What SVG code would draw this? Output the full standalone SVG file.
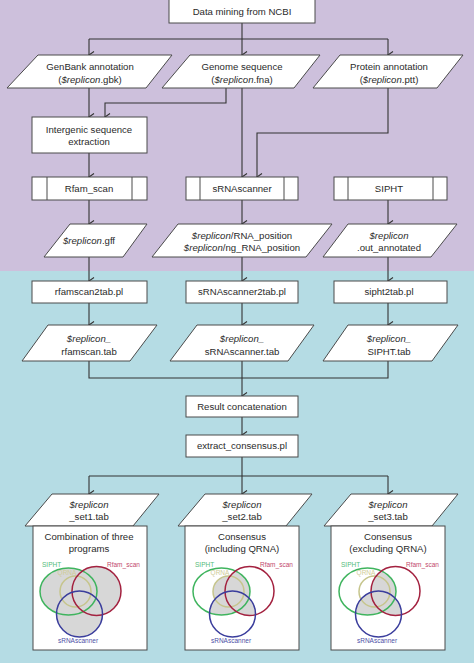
<svg xmlns="http://www.w3.org/2000/svg" width="474" height="663" viewBox="0 0 474 663">
<style>
.box{fill:#fff;stroke:#4a4a4a;stroke-width:1}
.t{font-family:"Liberation Sans",Arial,sans-serif;font-size:9.6px;fill:#2a2a2a;text-anchor:middle}
.i{font-style:italic}
.con{fill:none;stroke:#333;stroke-width:1.1}
.arr{fill:none;stroke:#333;stroke-width:1.1;marker-end:url(#ah)}
.lab{font-family:"Liberation Sans",Arial,sans-serif;font-size:6.5px}
.shade{fill:#d7d7d7;stroke:none}
</style>
<defs>
<marker id="ah" markerWidth="10" markerHeight="10" refX="5" refY="9" orient="auto" markerUnits="userSpaceOnUse" viewBox="0 0 10 10">
<path d="M1.5,4 L5,9 L8.5,4" fill="none" stroke="#333" stroke-width="1.1"/>
</marker>
<clipPath id="cG"><ellipse cx="-20.5" cy="591.5" rx="28.5" ry="23.5"/></clipPath>
<clipPath id="cR"><circle cx="7.5" cy="591" r="24.5"/></clipPath>
</defs>
<rect x="0" y="0" width="474" height="271" fill="#cdc0dc"/>
<rect x="0" y="271" width="474" height="392" fill="#b5dce4"/>

<g id="connectors">
<path class="con" d="M242,23 V39 M89,39 H388"/>
<path class="arr" d="M89,39 V55"/>
<path class="arr" d="M242,39 V55"/>
<path class="arr" d="M388,39 V55"/>
<path class="arr" d="M89,88 V117"/>
<path class="arr" d="M226,88 V103 H105 V117"/>
<path class="arr" d="M242,88 V177"/>
<path class="arr" d="M388,88 V133 H257 V177"/>
<path class="arr" d="M89,153 V177"/>
<path class="arr" d="M89,200 V224"/>
<path class="arr" d="M242,200 V224"/>
<path class="arr" d="M388,200 V224"/>
<path class="arr" d="M89,257 V281"/>
<path class="arr" d="M242,257 V281"/>
<path class="arr" d="M388,257 V281"/>
<path class="arr" d="M89,303 V325"/>
<path class="arr" d="M242,303 V325"/>
<path class="arr" d="M388,303 V325"/>
<path class="con" d="M89,361 V378 H388 V361"/>
<path class="arr" d="M242,361 V396"/>
<path class="arr" d="M242,417 V435"/>
<path class="con" d="M242,457 V476 M89,476 H388"/>
<path class="arr" d="M89,476 V494"/>
<path class="arr" d="M242,476 V494"/>
<path class="arr" d="M388,476 V494"/>
</g>

<g id="ncbi">
<rect class="box" x="169" y="-1" width="146" height="24"/>
<text class="t" x="242" y="15">Data mining  from NCBI</text>
</g>

<g id="genbank">
<polygon class="box" points="38,55 172,55 146,88 7,88"/>
<text class="t" x="90" y="70">GenBank annotation</text>
<text class="t" x="90" y="83">(<tspan class="i">$replicon</tspan>.gbk)</text>
</g>
<g id="genome">
<polygon class="box" points="190,55 320,55 294,88 162,88"/>
<text class="t" x="242" y="70">Genome sequence</text>
<text class="t" x="242" y="83">(<tspan class="i">$replicon</tspan>.fna)</text>
</g>
<g id="protein">
<polygon class="box" points="340,55 463,55 437,88 313,88"/>
<text class="t" x="389" y="70">Protein annotation</text>
<text class="t" x="389" y="83">(<tspan class="i">$replicon</tspan>.ptt)</text>
</g>

<g id="intergenic">
<rect class="box" x="32" y="117" width="115" height="36"/>
<text class="t" x="89" y="133">Intergenic sequence</text>
<text class="t" x="89" y="145">extraction</text>
</g>

<g id="rfam_scan">
<rect class="box" x="32" y="177" width="115" height="23"/>
<path class="box" d="M47,177 V200 M132,177 V200"/>
<text class="t" x="89" y="192">Rfam_scan</text>
</g>
<g id="srnascanner">
<rect class="box" x="186" y="177" width="112" height="23"/>
<path class="box" d="M200,177 V200 M284,177 V200"/>
<text class="t" x="242" y="192">sRNAscanner</text>
</g>
<g id="sipht">
<rect class="box" x="334" y="177" width="113" height="23"/>
<path class="box" d="M348,177 V200 M433,177 V200"/>
<text class="t" x="389" y="192">SIPHT</text>
</g>

<g id="gff">
<polygon class="box" points="70,224 147,224 123,257 44,257"/>
<text class="t" x="89" y="244"><tspan class="i">$replicon</tspan>.gff</text>
</g>
<g id="srna_pos">
<polygon class="box" points="178,224 332,224 306,257 152,257"/>
<text class="t" x="242" y="239"><tspan class="i">$replicon</tspan>/RNA_position</text>
<text class="t" x="242" y="251"><tspan class="i">$replicon</tspan>/ng_RNA_position</text>
</g>
<g id="out_annotated">
<polygon class="box" points="348,224 457,224 431,257 323,257"/>
<text class="t i" x="389" y="239">$replicon</text>
<text class="t" x="389" y="251">.out_annotated</text>
</g>

<g id="rfamscan2tab">
<rect class="box" x="32" y="281" width="115" height="22"/>
<text class="t" x="89" y="295">rfamscan2tab.pl</text>
</g>
<g id="srnascanner2tab">
<rect class="box" x="186" y="281" width="112" height="22"/>
<text class="t" x="242" y="295">sRNAscanner2tab.pl</text>
</g>
<g id="sipht2tab">
<rect class="box" x="334" y="281" width="113" height="22"/>
<text class="t" x="389" y="295">sipht2tab.pl</text>
</g>

<g id="rfamscan_tab">
<polygon class="box" points="48,325 157,325 130,361 22,361"/>
<text class="t i" x="89" y="342">$replicon_</text>
<text class="t" x="89" y="355">rfamscan.tab</text>
</g>
<g id="srnascanner_tab">
<polygon class="box" points="197,325 314,325 288,361 170,361"/>
<text class="t i" x="242" y="342">$replicon_</text>
<text class="t" x="242" y="355">sRNAscanner.tab</text>
</g>
<g id="sipht_tab">
<polygon class="box" points="348,325 458,325 432,361 323,361"/>
<text class="t i" x="389" y="342">$replicon_</text>
<text class="t" x="389" y="355">SIPHT.tab</text>
</g>

<g id="concat">
<rect class="box" x="186" y="396" width="112" height="21"/>
<text class="t" x="242" y="410">Result concatenation</text>
</g>
<g id="extract">
<rect class="box" x="186" y="435" width="112" height="22"/>
<text class="t" x="242" y="449">extract_consensus.pl</text>
</g>

<g id="set1" transform="translate(89,0)">
<polygon class="box" points="-37,494 70,494 44,526 -64,526"/>
<text class="t i" x="0" y="508">$replicon</text>
<text class="t" x="0" y="520">_set1.tab</text>
<rect class="box" x="-56" y="526" width="114" height="124"/>
<text class="t" x="0" y="540">Combination  of three</text>
<text class="t" x="0" y="552">programs</text>
<ellipse class="shade" cx="-20.5" cy="591.5" rx="28.5" ry="23.5"/>
<circle class="shade" cx="7.5" cy="591" r="24.5"/>
<circle class="shade" cx="-9.5" cy="614" r="23"/>
<circle cx="-13.5" cy="591.5" r="15.5" fill="none" stroke="#c6c58c" stroke-width="1.5"/>
<ellipse cx="-20.5" cy="591.5" rx="28.5" ry="23.5" fill="none" stroke="#3fb45e" stroke-width="1.5"/>
<circle cx="7.5" cy="591" r="24.5" fill="none" stroke="#a3213f" stroke-width="1.5"/>
<circle cx="-9.5" cy="614" r="23" fill="none" stroke="#3a3d9c" stroke-width="1.5"/>
<text class="lab" x="-47" y="567" fill="#55bb7a">SIPHT</text>
<text class="lab" x="18" y="567" fill="#c2496e">Rfam_scan</text>
<text class="lab" x="-22" y="575" fill="#cfcc98" text-anchor="middle">QRNA</text>
<text class="lab" x="-11" y="643" fill="#4d4fa6" text-anchor="middle">sRNAscanner</text>
</g>

<g id="set2" transform="translate(242,0)">
<polygon class="box" points="-37,494 70,494 44,526 -64,526"/>
<text class="t i" x="0" y="508">$replicon</text>
<text class="t" x="0" y="520">_set2.tab</text>
<rect class="box" x="-57" y="526" width="114" height="124"/>
<text class="t" x="0" y="540">Consensus</text>
<text class="t" x="0" y="552">(including  QRNA)</text>
<circle class="shade" cx="7.5" cy="591" r="24.5" clip-path="url(#cG)"/>
<circle class="shade" cx="-9.5" cy="614" r="23" clip-path="url(#cG)"/>
<circle class="shade" cx="-9.5" cy="614" r="23" clip-path="url(#cR)"/>
<circle class="shade" cx="-13.5" cy="591.5" r="15.5"/>
<circle cx="-13.5" cy="591.5" r="15.5" fill="none" stroke="#c6c58c" stroke-width="1.5"/>
<ellipse cx="-20.5" cy="591.5" rx="28.5" ry="23.5" fill="none" stroke="#3fb45e" stroke-width="1.5"/>
<circle cx="7.5" cy="591" r="24.5" fill="none" stroke="#a3213f" stroke-width="1.5"/>
<circle cx="-9.5" cy="614" r="23" fill="none" stroke="#3a3d9c" stroke-width="1.5"/>
<text class="lab" x="-47" y="567" fill="#55bb7a">SIPHT</text>
<text class="lab" x="18" y="567" fill="#c2496e">Rfam_scan</text>
<text class="lab" x="-22" y="575" fill="#cfcc98" text-anchor="middle">QRNA</text>
<text class="lab" x="-11" y="643" fill="#4d4fa6" text-anchor="middle">sRNAscanner</text>
</g>

<g id="set3" transform="translate(388,0)">
<polygon class="box" points="-37,494 70,494 44,526 -64,526"/>
<text class="t i" x="0" y="508">$replicon</text>
<text class="t" x="0" y="520">_set3.tab</text>
<rect class="box" x="-57" y="526" width="114" height="124"/>
<text class="t" x="0" y="540">Consensus</text>
<text class="t" x="0" y="552">(excluding  QRNA)</text>
<circle class="shade" cx="7.5" cy="591" r="24.5" clip-path="url(#cG)"/>
<circle class="shade" cx="-9.5" cy="614" r="23" clip-path="url(#cG)"/>
<circle class="shade" cx="-9.5" cy="614" r="23" clip-path="url(#cR)"/>
<circle cx="-13.5" cy="591.5" r="15.5" fill="none" stroke="#c6c58c" stroke-width="1.5"/>
<ellipse cx="-20.5" cy="591.5" rx="28.5" ry="23.5" fill="none" stroke="#3fb45e" stroke-width="1.5"/>
<circle cx="7.5" cy="591" r="24.5" fill="none" stroke="#a3213f" stroke-width="1.5"/>
<circle cx="-9.5" cy="614" r="23" fill="none" stroke="#3a3d9c" stroke-width="1.5"/>
<text class="lab" x="-47" y="567" fill="#55bb7a">SIPHT</text>
<text class="lab" x="18" y="567" fill="#c2496e">Rfam_scan</text>
<text class="lab" x="-22" y="575" fill="#cfcc98" text-anchor="middle">QRNA</text>
<text class="lab" x="-11" y="643" fill="#4d4fa6" text-anchor="middle">sRNAscanner</text>
</g>
</svg>
